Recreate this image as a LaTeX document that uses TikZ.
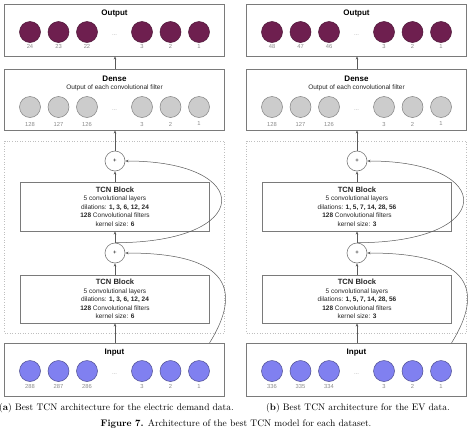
\documentclass[tikz,border=0pt]{standalone}
\usepackage{fontspec}
\newfontfamily\arial{Liberation Sans}
\usetikzlibrary{arrows.meta}
\definecolor{outc}{HTML}{6E1F4F}
\definecolor{inc}{HTML}{8080F0}
\definecolor{denc}{HTML}{CCCCCC}
\definecolor{edgec}{HTML}{7A7A7A}
\definecolor{numc}{HTML}{8A8A8A}
\tikzset{
  layerbox/.style={draw=edgec, line width=0.6pt, minimum width=220pt, inner sep=0pt},
  tcnbox/.style={draw=edgec, line width=0.6pt, minimum width=189pt, align=center,
    font=\arial\fontsize{6.5}{8.6}\selectfont, text=black!85},
  dashbox/.style={draw=black!25, dotted, line width=0.6pt, minimum width=220pt, minimum height=192pt, inner sep=0pt},
  unitc/.style={circle, minimum size=21pt, inner sep=0pt, line width=0.5pt},
  outunit/.style={unitc, fill=outc, draw=outc!70!black},
  denunit/.style={unitc, fill=denc, draw=black!50},
  inunit/.style={unitc, fill=inc, draw=inc!60!black},
  numlbl/.style={font=\arial\fontsize{5.8}{6}\selectfont, text=numc, inner sep=0pt},
  ttl/.style={font=\arial\bfseries\fontsize{8}{9}\selectfont, inner sep=0pt},
  subtxt/.style={font=\arial\fontsize{6.5}{7}\selectfont, inner sep=0pt, text=black!85},
  plusnode/.style={circle, draw=edgec, fill=white, minimum size=20pt, inner sep=0pt,
    line width=0.6pt, font=\arial\fontsize{6}{6}\selectfont},
  flow/.style={draw=black!65, line width=0.5pt, -{Stealth[length=3.2pt,width=2.6pt]}},
  dotsn/.style={font=\arial\fontsize{6}{6}\selectfont, text=black!35, inner sep=0pt},
  capn/.style={font=\fontsize{9.5}{11}\selectfont, inner sep=0pt},
}
\begin{document}
\begin{tikzpicture}[x=1pt,y=-1pt]
\useasboundingbox (0,0) rectangle (474,437);
\foreach \p/\c/\oa/\ob/\oc/\ia/\ib/\ic/\dil/\ker in
  {a/114.5/24/23/22/288/287/286/{1, 3, 6, 12, 24}/6,
   b/356.5/48/47/46/336/335/334/{1, 5, 7, 14, 28, 56}/3}{
  % boxes
  \node[layerbox, minimum height=52pt] (\p out) at (\c,30) {};
  \node[layerbox, minimum height=61pt] (\p den) at (\c,99.5) {};
  \node[dashbox] (\p dash) at (\c,237) {};
  \node[layerbox, minimum height=53pt] (\p in) at (\c,369.5) {};
  % titles
  \node[ttl] (\p outt) at (\c,14) {Output};
  \node[ttl] (\p dent) at (\c,79) {Dense};
  \node[subtxt] (\p dens) at (\c,88) {Output of each convolutional filter};
  \node[ttl] (\p int) at (\c,353) {Input};
  % units
  \foreach \dx/\lo/\ld/\li [count=\k] in {-84.5/\oa/128/\ia, -56/\ob/127/\ib, -27.5/\oc/126/\ic,
      27.5/3/3/3, 56/2/2/2, 84.5/1/1/1}{
    \node[outunit] (\p o\k) at (\c+\dx,32) {};
    \node[numlbl] (\p on\k) at (\c+\dx,46.5) {\lo};
    \node[denunit] (\p d\k) at (\c+\dx,107) {};
    \node[numlbl] (\p dn\k) at (\c+\dx,124) {\ld};
    \node[inunit] (\p i\k) at (\c+\dx,371) {};
    \node[numlbl] (\p inn\k) at (\c+\dx,386) {\li};
  }
  \node[dotsn] (\p odots) at (\c,35) {...};
  \node[dotsn] (\p ddots) at (\c,110) {...};
  \node[dotsn] (\p idots) at (\c,374) {...};
  % TCN blocks
  \node[tcnbox, minimum height=49pt] (\p t1) at (\c+0.5,206.5)
    {{\fontsize{7.6}{8.6}\selectfont\bfseries TCN Block}\\5 convolutional layers\\
     dilations: \textbf{\dil}\\\textbf{128} Convolutional filters\\kernel size: \textbf{\ker}};
  \node[tcnbox, minimum height=48pt] (\p t2) at (\c+0.5,299)
    {{\fontsize{7.6}{8.6}\selectfont\bfseries TCN Block}\\5 convolutional layers\\
     dilations: \textbf{\dil}\\\textbf{128} Convolutional filters\\kernel size: \textbf{\ker}};
  \node[plusnode] (\p p1) at (\c+0.5,161) {+};
  \node[plusnode] (\p p2) at (\c+0.5,253) {+};
  \coordinate (\p sk) at (\c+95,343);
  % connectors
  \draw[flow] (\p in.north -| \p p2) -- (\p t2.south);
  \draw[flow] (\p t2.north) -- (\p p2.south);
  \draw[flow] (\p p2.north) -- (\p t1.south);
  \draw[flow] (\p t1.north) -- (\p p1.south);
  \draw[flow] (\p p1.north) -- (\p den.south -| \p p1);
  \draw[flow] (\p den.north -| \p p1) -- (\p out.south -| \p p1);
  \draw[flow] (\p p2.north) .. controls +(140,0) and +(130,0) .. (\p p1.east);
  \draw[flow] (\p sk) .. controls +(26,-42) and +(118,0) .. (\p p2.east);
}
\node[capn] (capa) at (116.5,408) {(\textbf{a}) Best TCN architecture for the electric demand data.};
\node[capn] (capb) at (358,408) {(\textbf{b}) Best TCN architecture for the EV data.};
\node[capn] (capfig) at (236,424) {\textbf{Figure 7.} Architecture of the best TCN model for each dataset.};
\end{tikzpicture}
\end{document}
